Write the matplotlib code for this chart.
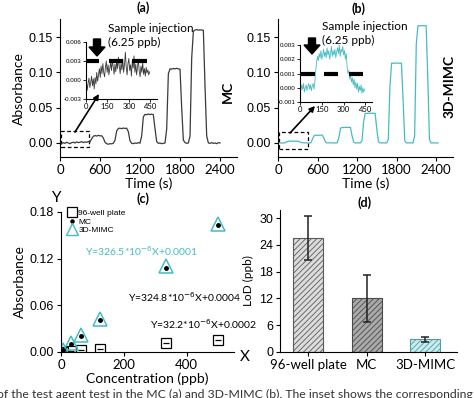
import matplotlib
matplotlib.use("Agg")
import matplotlib.pyplot as plt
from matplotlib.lines import Line2D
from matplotlib.patches import Rectangle, FancyArrow
import numpy as np

plt.rcParams['mathtext.fontset'] = 'dejavusans'
plt.rcParams['hatch.linewidth'] = 0.6

CYAN = '#45bcc2'
LABEL_FONT = ['Lato', 'DejaVu Sans']
TICK_FONT = ['Liberation Sans', 'DejaVu Sans']

# ---- panel (a): MC trace ----
mc_time = [0, 25, 50, 75, 100, 125, 150, 175, 200, 225, 250, 275, 300, 325, 350, 375, 400, 425, 450,
           475, 500, 525, 550, 575, 600, 625, 650, 675, 700, 725, 750, 775, 800,
           825, 850, 875, 900, 925, 950, 975, 1000, 1025, 1050, 1075, 1100, 1125, 1150, 1175, 1200,
           1225, 1250, 1275, 1300, 1325, 1350, 1375, 1400, 1425, 1450, 1475, 1500, 1525, 1550, 1575,
           1600, 1625, 1650, 1675, 1700, 1725, 1750, 1775, 1800, 1825, 1850, 1875, 1900, 1925,
           1950, 1975, 2000, 2025, 2050, 2075, 2100, 2125, 2150, 2175, 2200, 2225, 2250, 2275, 2300,
           2325, 2350, 2375, 2400]
mc_abs = [0.000, -0.001, 0.0005, -0.0005, 0.001, 0.000, -0.001, 0.0005, 0.001, 0.000, 0.0015, 0.0005,
          0.001, 0.002, 0.0005, 0.0015, 0.001, 0.002, 0.0015,
          0.006, 0.0095, 0.0105, 0.0098, 0.0108, 0.0100, 0.0103, 0.007, 0.001, -0.001, -0.0018, -0.001,
          -0.0012, -0.0005,
          0.004, 0.017, 0.0205, 0.021, 0.0202, 0.0212, 0.0205, 0.021, 0.016, 0.003, -0.0005, -0.001,
          0.000, -0.0005, 0.0005, -0.0003,
          0.010, 0.037, 0.0405, 0.040, 0.041, 0.0402, 0.0408, 0.040, 0.020, 0.002, -0.0005, 0.000,
          -0.001, -0.0005, 0.000,
          0.020, 0.098, 0.105, 0.1045, 0.1055, 0.105, 0.1058, 0.1048, 0.1045, 0.050, 0.004, 0.0005,
          -0.0005, 0.000,
          0.010, 0.120, 0.158, 0.160, 0.1605, 0.1598, 0.1602, 0.160, 0.1595, 0.080, 0.010, 0.000,
          -0.0005, 0.0005, -0.0005, 0.000, -0.001, 0.0005, 0.000]

# ---- panel (b): 3D-MIMC trace ----
mimc_time = [0, 25, 50, 75, 100, 125, 150, 175, 200, 225, 250, 275, 300, 325, 350, 375, 400, 425, 450,
             475, 500, 525, 550, 575, 600, 625, 650, 675, 700, 725, 750, 800, 850, 900,
             925, 950, 975, 1000, 1025, 1050, 1075, 1100, 1125, 1150, 1175, 1200, 1250,
             1275, 1300, 1325, 1350, 1375, 1400, 1425, 1450, 1475, 1500, 1525, 1550, 1600, 1650,
             1675, 1700, 1725, 1750, 1775, 1800, 1825, 1850, 1875, 1900, 1925, 1950, 2000, 2050,
             2075, 2100, 2125, 2150, 2175, 2200, 2225, 2250, 2275, 2300, 2325, 2350, 2400, 2430]
mimc_abs = [0.000, 0.0002, -0.0002, 0.0001, 0.000, 0.0012, 0.0022, 0.0025, 0.0026, 0.0024, 0.0027,
            0.0025, 0.0026, 0.0018, 0.0008, 0.0004, 0.0002, 0.0001, 0.000,
            0.000, 0.0002, 0.006, 0.0105, 0.011, 0.0108, 0.011, 0.0112, 0.011, 0.006, 0.001, 0.000,
            0.0003, 0.000, 0.0002,
            0.008, 0.021, 0.022, 0.0218, 0.0222, 0.022, 0.0221, 0.022, 0.010, 0.001, 0.000, 0.0002, 0.000,
            0.003, 0.030, 0.042, 0.0418, 0.0422, 0.042, 0.0421, 0.042, 0.042, 0.020, 0.002, 0.000,
            0.0002, 0.000,
            0.005, 0.080, 0.113, 0.1128, 0.1132, 0.113, 0.1131, 0.113, 0.113, 0.060, 0.003, 0.000,
            0.0002, 0.000,
            0.010, 0.140, 0.166, 0.1658, 0.1662, 0.166, 0.1661, 0.166, 0.090, 0.005, 0.000, 0.0002,
            0.000, 0.000]

# ---- insets: first 450 s ----
inset_step = 6
mc_inset = [-0.0010, -0.0002, -0.0016, -0.0005, 0.0003, -0.0012, -0.0004, 0.0006, -0.0009, 0.0002,
            -0.0014, 0.0004, -0.0006, 0.0012, -0.0002, 0.0008, 0.0018, 0.0004, 0.0022, 0.0010,
            0.0026, 0.0012, 0.0005, 0.0020, 0.0030, 0.0012, 0.0024, 0.0008, 0.0018, 0.0028,
            0.0015, 0.0032, 0.0020, 0.0009, 0.0025, 0.0013, 0.0030, 0.0018, 0.0036, 0.0022,
            0.0010, 0.0027, 0.0016, 0.0033, 0.0012, 0.0024, 0.0044, 0.0020, 0.0008, 0.0026,
            0.0034, 0.0015, 0.0024, 0.0006, 0.0030, 0.0019, 0.0038, 0.0012, 0.0025, 0.0008,
            0.0021, 0.0031, 0.0014, 0.0005, 0.0022, 0.0012, 0.0028, 0.0009, 0.0018, 0.0006,
            0.0020, 0.0011, 0.0016, 0.0008, 0.0013]
mimc_inset = [0.0001, -0.0002, 0.0002, -0.0001, 0.0003, -0.0003, 0.0000, 0.0002, -0.0002, 0.0001,
              0.0003, -0.0001, 0.0002, -0.0002, 0.0001, 0.0003, -0.0001, 0.0004, 0.0012, 0.0018,
              0.0022, 0.0019, 0.0024, 0.0021, 0.0026, 0.0020, 0.0023, 0.0027, 0.0022, 0.0025,
              0.0021, 0.0028, 0.0023, 0.0026, 0.0020, 0.0024, 0.0029, 0.0022, 0.0026, 0.0023,
              0.0027, 0.0021, 0.0025, 0.0028, 0.0024, 0.0030, 0.0022, 0.0027, 0.0025, 0.0029,
              0.0023, 0.0026, 0.0020, 0.0024, 0.0015, 0.0010, 0.0012, 0.0006, 0.0009, 0.0004,
              0.0007, 0.0002, 0.0006, 0.0000, 0.0004, -0.0001, 0.0003, -0.0003, 0.0001, -0.0002,
              0.0002, -0.0004, 0.0000, -0.0003, -0.0001]
mc_bar_spans = [(0, 95), (160, 260), (325, 425)]
mimc_bar_spans = [(0, 100), (165, 260), (335, 430)]

# ---- panel (c): calibration ----
conc = [6.25, 31.25, 62.5, 125, 333, 500]
plate_abs = [0.0005, 0.001, 0.002, 0.004, 0.011, 0.016]
mc_cal = [0.003, 0.0105, 0.021, 0.041, 0.108, 0.163]
mimc_cal = [0.003, 0.011, 0.022, 0.042, 0.110, 0.1645]
eq_mimc = r"Y=326.5*10$^{-6}$X+0.0001"
eq_mc = r"Y=324.8*10$^{-6}$X+0.0004"
eq_plate = r"Y=32.2*10$^{-6}$X+0.0002"

# ---- panel (d): LoD ----
devices = ['96-well plate', 'MC', '3D-MIMC']
lod = [25.5, 12.0, 2.8]
lod_err = [4.9, 5.2, 0.45]
bar_face = ['#dcdcdc', '#a9a9a9', '#c4eef0']
bar_edge = ['#5a5a5a', '#4a4a4a', '#5a9a9c']

fig = plt.figure(figsize=(4.74, 3.98), dpi=100)
W, H = 474.0, 398.0


def px_axes(l, t, r, b):
    return fig.add_axes([l / W, 1 - b / H, (r - l) / W, (b - t) / H])


def px_text(x, y, s, **kw):
    return fig.text(x / W, 1 - y / H, s, **kw)


def style(ax, yfs=9, xfs=9.5, xfont=LABEL_FONT):
    for s in ('top', 'right'):
        ax.spines[s].set_visible(False)
    ax.tick_params(direction='out', length=3, width=0.8, pad=2)
    for lab in ax.get_yticklabels():
        lab.set_fontfamily(TICK_FONT)
        lab.set_fontsize(yfs)
    for lab in ax.get_xticklabels():
        lab.set_fontfamily(xfont)
        lab.set_fontsize(xfs)


def block_arrow(x, top, tip):
    # vertical block arrow, given in figure pixels (converted to inches)
    arr = FancyArrow(x / 100, (H - top) / 100, 0, -(tip - top) / 100, width=7 / 100,
                     head_width=16 / 100, head_length=9 / 100, length_includes_head=True,
                     transform=fig.dpi_scale_trans, color='black', zorder=10)
    fig.add_artist(arr)


def trace_panel(l, r, tt, ab, color, title, side, inset_box, inset_vals, inset_ylim,
                inset_yticks, inset_ylabels, bar_y, bar_spans, rect, arrow_from, arrow_to,
                inj, text_xy, ylabel):
    ax = px_axes(l, 19.4, r, 157.1)
    ax.plot(tt, ab, color=color, lw=0.9)
    ax.set_xlim(0, 2650)
    ax.set_ylim(-0.02, 0.175)
    ax.set_xticks([0, 600, 1200, 1800, 2400])
    ax.set_yticks([0.0, 0.05, 0.10, 0.15])
    ax.set_yticklabels(['0.00', '0.05', '0.10', '0.15'])
    style(ax)
    ax.set_xlabel('Time (s)', fontfamily=LABEL_FONT, fontsize=10, labelpad=1)
    if ylabel:
        ax.set_ylabel('Absorbance', fontfamily=LABEL_FONT, fontsize=10, labelpad=3)
    px_text(title[0], title[1], title[2], fontfamily=LABEL_FONT, fontsize=9, fontweight='bold',
            ha='center', va='center')
    px_text(side[0], side[1], side[2], rotation=90, ha='center', va='center',
            fontfamily=LABEL_FONT, fontsize=10, fontweight='bold')
    # dashed zoom box
    ax.add_patch(Rectangle((rect[0], rect[1]), rect[2] - rect[0], rect[3] - rect[1],
                           fill=False, ls=(0, (3, 2)), lw=0.9, ec='black'))
    ax.annotate('', xy=(arrow_to[0] / W, 1 - arrow_to[1] / H),
                xytext=(arrow_from[0] / W, 1 - arrow_from[1] / H),
                xycoords='figure fraction', textcoords='figure fraction',
                arrowprops=dict(arrowstyle='-|>', lw=1.2, color='black', mutation_scale=8,
                                shrinkA=0, shrinkB=0))

    ins = px_axes(*inset_box)
    ins.plot(np.arange(len(inset_vals)) * inset_step, inset_vals, color=color, lw=0.6)
    ins.set_xlim(0, 495)
    ins.set_ylim(*inset_ylim)
    ins.set_xticks([0, 150, 300, 450])
    ins.set_yticks(inset_yticks)
    ins.set_yticklabels(inset_ylabels)
    ins.patch.set_alpha(0)
    for s in ('top', 'right'):
        ins.spines[s].set_visible(False)
    ins.tick_params(direction='out', length=2, width=0.6, pad=1)
    for lab in ins.get_yticklabels():
        lab.set_fontfamily(TICK_FONT)
        lab.set_fontsize(4.5)
    for lab in ins.get_xticklabels():
        lab.set_fontfamily(LABEL_FONT)
        lab.set_fontsize(5.5)
    for a, b in bar_spans:
        ins.plot([a, b], [bar_y, bar_y], color='black', lw=3, solid_capstyle='butt', clip_on=False)
    block_arrow(*inj)
    px_text(text_xy[0], text_xy[1], 'Sample injection', fontfamily=LABEL_FONT, fontsize=8.5,
            ha='left', va='center')
    px_text(text_xy[0], text_xy[1] + 14, '(6.25 ppb)', fontfamily=LABEL_FONT, fontsize=8.5,
            ha='left', va='center')
    return ax


trace_panel(60, 236.7, mc_time, mc_abs, '#3a3a3a', (143, 8, '(a)'), (228, 92, 'MC'),
            (85.5, 42, 157, 99), mc_inset, (-0.003, 0.006), [-0.003, 0.0, 0.003, 0.006],
            ['-0.003', '0.000', '0.003', '0.006'], 0.003, mc_bar_spans,
            (15, -0.0056, 440, 0.0164), (75, 132), (99, 94), (97, 39, 56), (108, 28), True)

trace_panel(278, 452.5, mimc_time, mimc_abs, CYAN, (358, 9, '(b)'), (450, 86, '3D-MIMC'),
            (300, 45, 372, 102), mimc_inset, (-0.001, 0.003), [-0.001, 0.0, 0.001, 0.002, 0.003],
            ['-0.001', '0.000', '0.001', '0.002', '0.003'], 0.001, mimc_bar_spans,
            (15, -0.008, 455, 0.0155), (290, 133), (315, 106), (312, 38, 54), (322, 26), False)

# ---- panel (c) ----
axc = px_axes(61, 212, 234, 352)
axc.plot(conc, plate_abs, ls='none', marker='s', ms=7.5, mfc='none', mec='black', mew=0.9)
axc.plot(conc, plate_abs, ls='none', marker='_', ms=4, mec='black', mew=0.9)
axc.plot(conc, mimc_cal, ls='none', marker='^', ms=10, mfc='none', mec=CYAN, mew=1.1)
axc.plot(conc, mc_cal, ls='none', marker='o', ms=2.5, color='black')
axc.set_xlim(0, 550)
axc.set_ylim(0, 0.18)
axc.set_xticks([0, 200, 400])
axc.set_yticks([0.0, 0.06, 0.12, 0.18])
axc.set_yticklabels(['0.00', '0.06', '0.12', '0.18'])
style(axc)
axc.set_xlabel('Concentration (ppb)', fontfamily=LABEL_FONT, fontsize=10, labelpad=1)
axc.set_ylabel('Absorbance', fontfamily=LABEL_FONT, fontsize=10, labelpad=3)
px_text(143, 199, '(c)', fontfamily=LABEL_FONT, fontsize=9, fontweight='bold',
        ha='center', va='center')
handles = [Line2D([], [], ls='none', marker='s', ms=6.5, mfc='none', mec='black', mew=0.9),
           Line2D([], [], ls='none', marker='o', ms=2.2, color='black'),
           Line2D([], [], ls='none', marker='^', ms=8, mfc='none', mec=CYAN, mew=1)]
axc.legend(handles, ['96-well plate', 'MC', '3D-MIMC'], loc='upper left',
           bbox_to_anchor=(0.0, 1.06), frameon=False, handletextpad=0.2,
           labelspacing=0.05, handlelength=1.2, borderpad=0.2,
           prop={'family': TICK_FONT, 'size': 6})
px_text(85, 251, eq_mimc, fontsize=7.5, color=CYAN, fontfamily=LABEL_FONT, va='center')
px_text(128, 297, eq_mc, fontsize=7.5, color='black', fontfamily=LABEL_FONT, va='center')
px_text(150, 324, eq_plate, fontsize=7.5, color='black', fontfamily=LABEL_FONT, va='center')
px_text(57, 198, 'Y', fontsize=11, fontfamily=LABEL_FONT, ha='center', va='center')
px_text(245, 357, 'X', fontsize=11, fontfamily=LABEL_FONT, ha='center', va='center')

# ---- panel (d) ----
axd = px_axes(280, 210, 457, 352)
xpos = np.arange(len(devices))
for i in range(len(devices)):
    axd.bar(xpos[i], lod[i], width=0.51, color=bar_face[i], edgecolor=bar_edge[i], lw=0.8,
            hatch='//////', zorder=2)
axd.errorbar(xpos, lod, yerr=lod_err, fmt='none', ecolor='#222222', elinewidth=1.1,
             capsize=3, capthick=1.1, zorder=3)
axd.set_xlim(-0.48, 2.54)
axd.set_ylim(0, 31.8)
axd.set_yticks([0, 6, 12, 18, 24, 30])
axd.set_xticks(xpos)
axd.set_xticklabels(devices)
style(axd)
axd.set_ylabel('LoD (ppb)', fontfamily=LABEL_FONT, fontsize=8.5, labelpad=4)
px_text(365, 203, '(d)', fontfamily=LABEL_FONT, fontsize=9, fontweight='bold',
        ha='center', va='center')

# cropped caption line at the bottom
px_text(-3, 389,
        'of the test agent test in the MC (a) and 3D-MIMC (b). The inset shows the corresponding',
        fontsize=8.8, fontfamily=LABEL_FONT, color='#333333', va='top', ha='left')

fig.savefig('out.png', dpi=100)
